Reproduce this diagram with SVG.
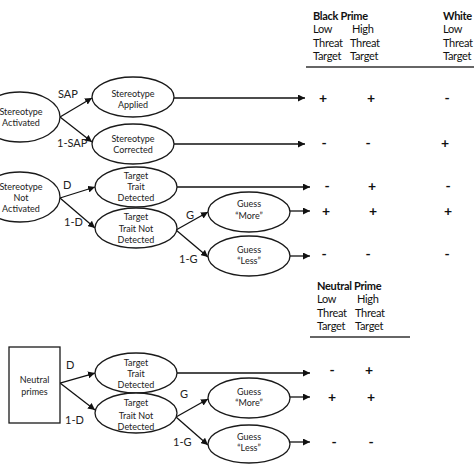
<svg xmlns="http://www.w3.org/2000/svg" width="474" height="474" viewBox="0 0 474 474">
<style>
.n{fill:#fff;stroke:#1a1a1a;stroke-width:1.3}
.t{font-family:Lato,"Liberation Sans",sans-serif;font-size:9px;fill:#222;text-anchor:middle}
.l{font-family:Lato,"Liberation Sans",sans-serif;font-size:11px;fill:#222}
.h{font-family:Lato,"Liberation Sans",sans-serif;font-size:11px;letter-spacing:-0.3px;fill:#111}
.hb{font-weight:bold}
.s{font-family:Lato,"Liberation Sans",sans-serif;font-size:14px;font-weight:bold;fill:#111;text-anchor:middle}
.c{stroke:#111;stroke-width:1.3;fill:none;marker-end:url(#a)}
.r{stroke:#333;stroke-width:1.5}
</style>
<defs>
<marker id="a" viewBox="0 0 10 10" refX="10" refY="5" markerWidth="7" markerHeight="7" markerUnits="userSpaceOnUse" orient="auto">
<path d="M0,0 L10,5 L0,10 z" fill="#111"/>
</marker>
</defs>
<rect width="474" height="474" fill="#fff"/>

<g id="header-black-white">
<text class="h hb" x="313" y="20">Black Prime</text>
<text class="h" x="313" y="33">Low</text>
<text class="h" x="352" y="33">High</text>
<text class="h" x="313" y="47">Threat</text>
<text class="h" x="350" y="47">Threat</text>
<text class="h" x="313" y="60">Target</text>
<text class="h" x="350" y="60">Target</text>
<text class="h hb" x="443" y="20">White</text>
<text class="h" x="443" y="33">Low</text>
<text class="h" x="443" y="47">Threat</text>
<text class="h" x="443" y="60">Target</text>
<line class="r" x1="306" y1="67" x2="474" y2="67"/>
</g>

<g id="header-neutral">
<text class="h hb" x="317" y="290">Neutral Prime</text>
<text class="h" x="317" y="303">Low</text>
<text class="h" x="357" y="303">High</text>
<text class="h" x="317" y="317">Threat</text>
<text class="h" x="355" y="317">Threat</text>
<text class="h" x="317" y="330">Target</text>
<text class="h" x="355" y="330">Target</text>
<line class="r" x1="310" y1="337" x2="410" y2="337"/>
</g>

<g id="connectors">
<line class="c" x1="60" y1="117" x2="92" y2="98"/>
<line class="c" x1="60" y1="117" x2="92" y2="142"/>
<line class="c" x1="174" y1="98" x2="305" y2="98"/>
<line class="c" x1="174" y1="144" x2="305" y2="144"/>
<line class="c" x1="60" y1="198" x2="95" y2="187"/>
<line class="c" x1="60" y1="198" x2="95" y2="228"/>
<line class="c" x1="177" y1="187" x2="310" y2="187"/>
<line class="c" x1="176" y1="230" x2="208" y2="212"/>
<line class="c" x1="176" y1="230" x2="208" y2="257"/>
<line class="c" x1="289" y1="211" x2="310" y2="211"/>
<line class="c" x1="289" y1="256" x2="310" y2="256"/>
<line class="c" x1="60" y1="383" x2="95" y2="373"/>
<line class="c" x1="60" y1="383" x2="95" y2="410"/>
<line class="c" x1="177" y1="373" x2="310" y2="373"/>
<line class="c" x1="176" y1="417" x2="208" y2="399"/>
<line class="c" x1="176" y1="417" x2="208" y2="445"/>
<line class="c" x1="289" y1="397" x2="310" y2="397"/>
<line class="c" x1="289" y1="442" x2="310" y2="442"/>
<text class="l" x="58" y="98">SAP</text>
<text class="l" x="57" y="147">1-SAP</text>
<text class="l" x="63" y="189">D</text>
<text class="l" x="64" y="226">1-D</text>
<text class="l" x="186" y="219">G</text>
<text class="l" x="179" y="263">1-G</text>
<text class="l" x="66" y="369">D</text>
<text class="l" x="65" y="424">1-D</text>
<text class="l" x="180" y="398">G</text>
<text class="l" x="173" y="446">1-G</text>
</g>

<g id="stereotype-activated">
<ellipse class="n" cx="20" cy="117" rx="40" ry="25"/>
<text class="t" x="21" y="115">Stereotype</text>
<text class="t" x="21" y="126">Activated</text>
</g>
<g id="stereotype-applied">
<ellipse class="n" cx="133" cy="97" rx="41" ry="20"/>
<text class="t" x="133" y="97">Stereotype</text>
<text class="t" x="133" y="108">Applied</text>
</g>
<g id="stereotype-corrected">
<ellipse class="n" cx="133" cy="144" rx="41" ry="20"/>
<text class="t" x="133" y="142">Stereotype</text>
<text class="t" x="133" y="153">Corrected</text>
</g>
<g id="stereotype-not-activated">
<ellipse class="n" cx="20" cy="197" rx="40" ry="25"/>
<text class="t" x="21" y="190">Stereotype</text>
<text class="t" x="21" y="201">Not</text>
<text class="t" x="21" y="212">Activated</text>
</g>
<g id="trait-detected-1">
<ellipse class="n" cx="136" cy="187" rx="41" ry="20"/>
<text class="t" x="136" y="179">Target</text>
<text class="t" x="136" y="190">Trait</text>
<text class="t" x="136" y="201">Detected</text>
</g>
<g id="trait-not-detected-1">
<ellipse class="n" cx="136" cy="228" rx="41" ry="20"/>
<text class="t" x="136" y="220">Target</text>
<text class="t" x="136" y="232">Trait Not</text>
<text class="t" x="136" y="243">Detected</text>
</g>
<g id="guess-more-1">
<ellipse class="n" cx="249" cy="212" rx="41" ry="20"/>
<text class="t" x="249" y="207">Guess</text>
<text class="t" x="249" y="219">“More”</text>
</g>
<g id="guess-less-1">
<ellipse class="n" cx="249" cy="256" rx="41" ry="20"/>
<text class="t" x="249" y="253">Guess</text>
<text class="t" x="249" y="264">“Less”</text>
</g>

<g id="neutral-primes">
<rect class="n" x="9" y="347" width="51" height="76"/>
<text class="t" x="34.5" y="383">Neutral</text>
<text class="t" x="34.5" y="395">primes</text>
</g>
<g id="trait-detected-2">
<ellipse class="n" cx="136" cy="373" rx="41" ry="20"/>
<text class="t" x="136" y="366">Target</text>
<text class="t" x="136" y="377">Trait</text>
<text class="t" x="136" y="388">Detected</text>
</g>
<g id="trait-not-detected-2">
<ellipse class="n" cx="136" cy="413" rx="41" ry="20"/>
<text class="t" x="136" y="406">Target</text>
<text class="t" x="136" y="419">Trait Not</text>
<text class="t" x="136" y="430">Detected</text>
</g>
<g id="guess-more-2">
<ellipse class="n" cx="249" cy="398" rx="41" ry="20"/>
<text class="t" x="249" y="395">Guess</text>
<text class="t" x="249" y="406">“More”</text>
</g>
<g id="guess-less-2">
<ellipse class="n" cx="249" cy="444" rx="41" ry="19"/>
<text class="t" x="249" y="440">Guess</text>
<text class="t" x="249" y="451">“Less”</text>
</g>

<g id="signs">
<text class="s" x="323" y="103">+</text>
<text class="s" x="371" y="103">+</text>
<text class="s" x="447" y="103">-</text>
<text class="s" x="324" y="148">-</text>
<text class="s" x="368" y="148">-</text>
<text class="s" x="445" y="148">+</text>
<text class="s" x="327" y="191">-</text>
<text class="s" x="372" y="191">+</text>
<text class="s" x="448" y="191">-</text>
<text class="s" x="326" y="216">+</text>
<text class="s" x="373" y="216">+</text>
<text class="s" x="448" y="216">+</text>
<text class="s" x="324" y="259">-</text>
<text class="s" x="368" y="259">-</text>
<text class="s" x="447" y="259">-</text>
<text class="s" x="332" y="375">-</text>
<text class="s" x="369" y="375">+</text>
<text class="s" x="332" y="402">+</text>
<text class="s" x="371" y="402">+</text>
<text class="s" x="334" y="447">-</text>
<text class="s" x="371" y="447">-</text>
</g>
</svg>
